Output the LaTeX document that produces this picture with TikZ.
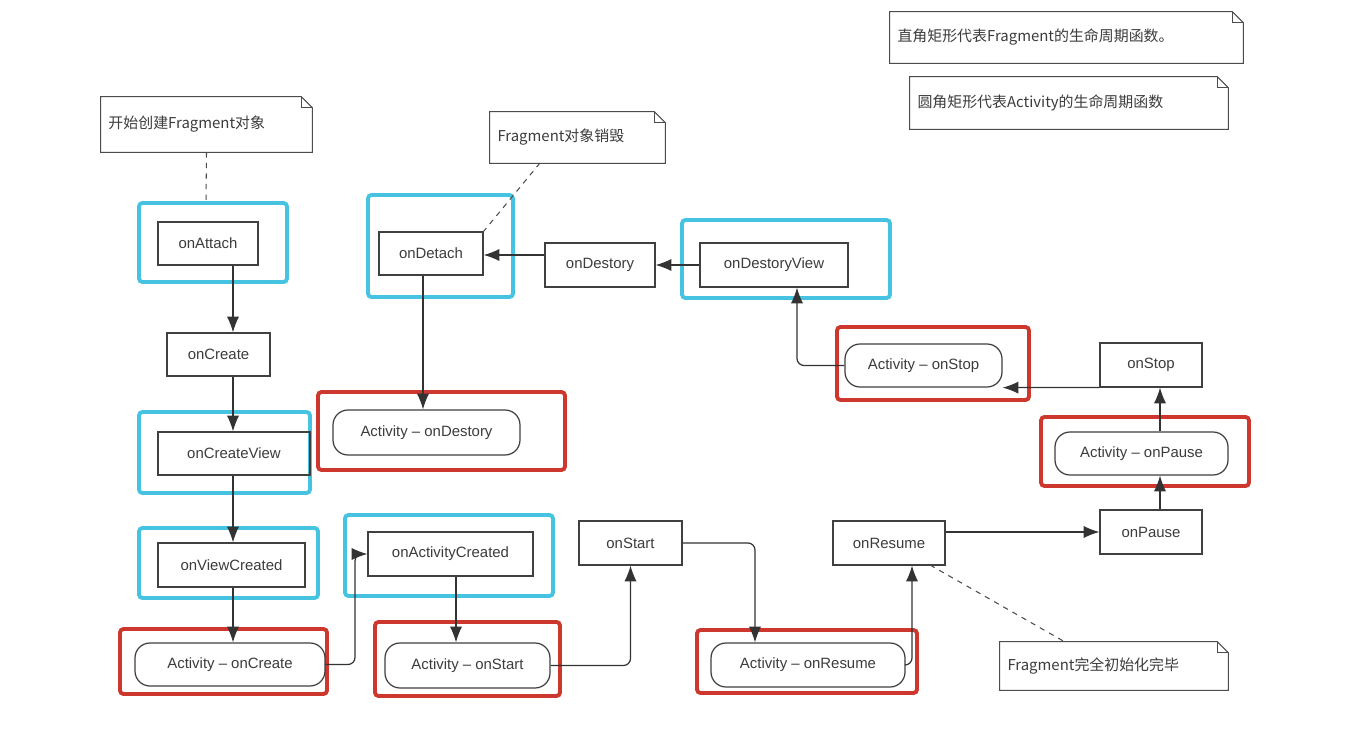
\documentclass[tikz,border=0pt]{standalone}
\usepackage{fontspec}
\setmainfont{Liberation Sans}
\newfontfamily\cjk{Noto Sans CJK SC}
\usetikzlibrary{arrows.meta}
\definecolor{fcyan}{RGB}{70,195,225}
\definecolor{fred}{RGB}{205,55,45}
\definecolor{txt}{RGB}{60,60,60}
\newcommand{\foldnote}[1]{%
  \draw[line width=0.6pt,black!70] (#1.south west) -- (#1.north west) -- ([xshift=-0.22cm]#1.north east) -- ([yshift=-0.22cm]#1.north east) -- (#1.south east) -- cycle;
  \draw[line width=0.6pt,black!70] ([xshift=-0.22cm]#1.north east) -- ([xshift=-0.22cm,yshift=-0.22cm]#1.north east) -- ([yshift=-0.22cm]#1.north east);}
\begin{document}
\begin{tikzpicture}[x=0.02cm,y=-0.02cm,
  every node/.style={font=\fontsize{8.5}{10}\selectfont,text=txt,inner sep=0pt},
  fb/.style 2 args={draw=black!75,line width=0.7pt,minimum width=#1*0.02cm,minimum height=#2*0.02cm},
  ab/.style 2 args={fb={#1}{#2},rounded corners=0.3cm},
  note/.style 2 args={font=\fontsize{8.5}{10}\selectfont\cjk,minimum width=#1*0.02cm,minimum height=#2*0.02cm,align=left,text width=#1*0.02cm-0.3cm},
  frame/.style={line width=2.2pt,rounded corners=2pt},
  blue/.style={frame,draw=fcyan},
  red/.style={frame,draw=fred},
  arr/.style={-{Latex[length=9pt,width=7pt]},line width=0.7pt,black!80,rounded corners=4pt},
  dsh/.style={dashed,line width=0.6pt,black!70}]
\useasboundingbox[fill=white] (0,0) rectangle (1359,739);
% frames
\draw[blue] (139,203) rectangle (287,282);
\draw[blue] (139,412) rectangle (310,493);
\draw[blue] (139,528) rectangle (318,598);
\draw[blue] (345,515) rectangle (553,596);
\draw[blue] (368,195) rectangle (513,297);
\draw[blue] (682,220) rectangle (890,298);
\draw[red] (120,629) rectangle (327,694);
\draw[red] (375,622) rectangle (560,696);
\draw[red] (697,630) rectangle (917,693);
\draw[red] (1041,417) rectangle (1249,486);
\draw[red] (837,327) rectangle (1029,400);
\draw[red] (318,392) rectangle (565,470);
% nodes
\node[fb={100}{43}] (attach) at (208,243.5) {onAttach};
\node[fb={103}{43}] (create) at (218.5,354.5) {onCreate};
\node[fb={152}{43}] (cview) at (234,453.5) {onCreateView};
\node[fb={147}{44}] (vcreated) at (231.5,565) {onViewCreated};
\node[ab={190}{43}] (acreate) at (230,664.5) {Activity – onCreate};
\node[fb={165}{44}] (actcreated) at (450.5,554) {onActivityCreated};
\node[ab={165}{45}] (astart) at (467.5,665.5) {Activity – onStart};
\node[fb={103}{44}] (start) at (630.5,543) {onStart};
\node[ab={194}{44}] (aresume) at (808,665) {Activity – onResume};
\node[fb={112}{44}] (resume) at (889,543) {onResume};
\node[fb={102}{44}] (pause) at (1151,532) {onPause};
\node[ab={173}{43}] (apause) at (1141.5,453.5) {Activity – onPause};
\node[fb={102}{44}] (stop) at (1151,365) {onStop};
\node[ab={157}{43}] (astop) at (923.5,365.5) {Activity – onStop};
\node[fb={148}{44}] (dview) at (774,265) {onDestoryView};
\node[fb={110}{44}] (destory) at (600,265) {onDestory};
\node[fb={104}{43}] (detach) at (431,253.5) {onDetach};
\node[ab={187}{45}] (adestory) at (426.5,432.5) {Activity – onDestory};
% notes
\node[note={211}{55}] (n1) at (206.5,124.5) {开始创建Fragment对象};
\node[note={175}{51}] (n2) at (577.5,137.5) {Fragment对象销毁};
\node[note={353}{51}] (n3) at (1066.5,37.5) {直角矩形代表Fragment的生命周期函数。};
\node[note={318}{52}] (n4) at (1069,103) {圆角矩形代表Activity的生命周期函数};
\node[note={228}{48}] (n5) at (1114,666) {Fragment完全初始化完毕};
\foldnote{n1}\foldnote{n2}\foldnote{n3}\foldnote{n4}\foldnote{n5}
% dashed links
\draw[dsh] (n1.south) -- (206,203);
\draw[dsh] (540,163) -- (detach.north east);
\draw[dsh] (930,565) -- (1065,642);
% arrows
\draw[arr] (attach.south -| 233,0) -- (create.north -| 233,0);
\draw[arr] (create.south -| 233,0) -- (cview.north -| 233,0);
\draw[arr] (cview.south -| 233,0) -- (vcreated.north -| 233,0);
\draw[arr] (vcreated.south -| 233,0) -- (acreate.north -| 233,0);
\draw[arr] (acreate.east) -- (355,664.5) -- (355,554) -- (actcreated.west);
\draw[arr] (actcreated.south -| 456,0) -- (astart.north -| 456,0);
\draw[arr] (astart.east) -| (start.south);
\draw[arr] (start.east) -| (aresume.north -| 755,0);
\draw[arr] (aresume.east) -- (912,665) -- (resume.south -| 912,0);
\draw[arr] (resume.east |- pause.west) -- (pause.west);
\draw[arr] (pause.north -| 1160,0) -- (apause.south -| 1160,0);
\draw[arr] (apause.north -| 1160,0) -- (stop.south -| 1160,0);
\draw[arr] (stop.south west) -- (astop.south east);
\draw[arr] (astop.west) -| (dview.south -| 797,0);
\draw[arr] (dview.west) -- (destory.east);
\draw[arr] (destory.west |- 0,255) -- (detach.east |- 0,255);
\draw[arr] (detach.south -| 423,0) -- (adestory.north -| 423,0);
\end{tikzpicture}
\end{document}
